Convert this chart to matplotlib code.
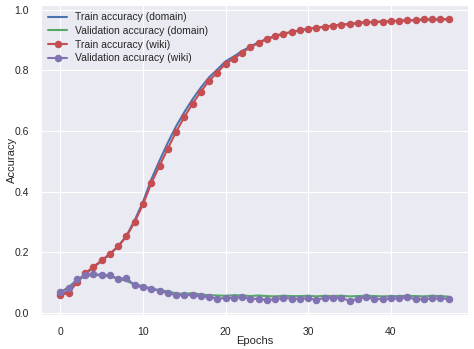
import numpy as np
import matplotlib
matplotlib.use('Agg')
import matplotlib.pyplot as plt
import seaborn as sns

sns.set_style("darkgrid")
plt.rcParams['font.family'] = ['Liberation Sans', 'DejaVu Sans']

# Accuracy per epoch
epochs = np.arange(48)

train_wiki = [0.059, 0.065, 0.100, 0.130, 0.152, 0.173, 0.195, 0.220, 0.252, 0.300,
              0.358, 0.427, 0.485, 0.542, 0.597, 0.646, 0.690, 0.730, 0.766, 0.793,
              0.822, 0.839, 0.858, 0.876, 0.891, 0.903, 0.914, 0.921, 0.927, 0.932,
              0.938, 0.941, 0.944, 0.948, 0.951, 0.953, 0.956, 0.959, 0.960, 0.961,
              0.962, 0.964, 0.965, 0.966, 0.968, 0.968, 0.968, 0.969]

val_wiki = [0.068, 0.081, 0.110, 0.124, 0.128, 0.125, 0.123, 0.112, 0.114, 0.090,
            0.084, 0.078, 0.073, 0.065, 0.059, 0.057, 0.059, 0.054, 0.052, 0.046,
            0.049, 0.049, 0.052, 0.046, 0.046, 0.042, 0.044, 0.050, 0.046, 0.046,
            0.048, 0.042, 0.050, 0.047, 0.050, 0.039, 0.046, 0.052, 0.046, 0.044,
            0.047, 0.047, 0.052, 0.044, 0.045, 0.047, 0.047, 0.046]

train_domain = [0.060, 0.072, 0.103, 0.127, 0.150, 0.171, 0.193, 0.219, 0.254, 0.306,
                0.366, 0.440, 0.502, 0.561, 0.615, 0.662, 0.705, 0.743, 0.777, 0.803,
                0.830, 0.846, 0.864, 0.879, 0.893, 0.904, 0.914, 0.921, 0.927, 0.932,
                0.938, 0.941, 0.944, 0.948, 0.951, 0.953, 0.956, 0.959, 0.960, 0.961,
                0.962, 0.964, 0.965, 0.966, 0.968, 0.968, 0.968, 0.969]

val_domain = [0.068, 0.085, 0.108, 0.120, 0.125, 0.123, 0.120, 0.112, 0.105, 0.093,
              0.088, 0.080, 0.075, 0.070, 0.064, 0.062, 0.065, 0.060, 0.058, 0.057,
              0.056, 0.058, 0.057, 0.055, 0.057, 0.055, 0.054, 0.056, 0.055, 0.055,
              0.056, 0.054, 0.056, 0.055, 0.056, 0.054, 0.055, 0.056, 0.055, 0.054,
              0.055, 0.055, 0.056, 0.055, 0.054, 0.056, 0.055, 0.053]

fig = plt.figure(figsize=(4.74, 3.49), dpi=100)
ax = fig.add_axes([0.0865, 0.0974, 0.901, 0.888])

ax.plot(epochs, train_domain, color='#4C72B0', lw=1.5, label='Train accuracy (domain)')
ax.plot(epochs, val_domain, color='#55A868', lw=1.5, label='Validation accuracy (domain)')
ax.plot(epochs, train_wiki, color='#C44E52', lw=1.5, marker='o', ms=4.4, label='Train accuracy (wiki)')
ax.plot(epochs, val_wiki, color='#8172B2', lw=1.5, marker='o', ms=4.4, label='Validation accuracy (wiki)')

ax.set_xlabel('Epochs', fontsize=8)
ax.set_ylabel('Accuracy', fontsize=8)
ax.xaxis.set_label_coords(0.5, -0.068)
ax.yaxis.set_label_coords(-0.056, 0.5)
ax.tick_params(labelsize=7.5, pad=5)
ax.legend(loc='upper left', fontsize=7.5, frameon=False, handlelength=1.8,
          labelspacing=0.35, borderaxespad=0.3)

plt.savefig('out.png', dpi=100)
